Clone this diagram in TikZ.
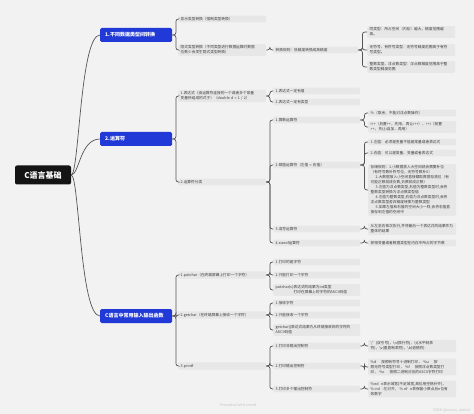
\documentclass[tikz,border=0pt]{standalone}
\usepackage{fontspec}
\setmainfont{Noto Sans CJK SC}
\XeTeXlinebreaklocale "zh"
\definecolor{bg}{HTML}{F2F2F2}
\definecolor{leafbg}{HTML}{E7E7E7}
\definecolor{txt}{HTML}{3C3C3C}
\definecolor{ln}{HTML}{555555}
\definecolor{brblue}{HTML}{2139D6}
\definecolor{rootbk}{HTML}{141414}
\definecolor{faint}{HTML}{C4C4C4}
\tikzset{
  conn/.style={draw=ln, line width=0.7pt, rounded corners=2.5pt},
  rootbox/.style={fill=rootbk, text=white, rounded corners=2pt, minimum width=56pt, minimum height=19pt, font=\fontsize{8}{9}\selectfont\bfseries, inner sep=0pt},
  branch/.style={anchor=west, fill=brblue, text=white, rounded corners=1.5pt, minimum height=14pt, text width=62pt, inner xsep=5pt, align=left, font=\fontsize{5}{6}\selectfont\bfseries},
  leaf/.style={anchor=west, fill=leafbg, text=txt, rounded corners=1.2pt, inner xsep=2.5pt, inner ysep=1.6pt, text width=#1, align=left, font=\fontsize{3.7}{5}\selectfont},
  leaf/.default=83pt,
  wm/.style={text=faint, font=\fontsize{3.6}{4}\selectfont, inner sep=0pt}
}
\begin{document}
\begin{tikzpicture}[x=1pt,y=-1pt]
\useasboundingbox (0,0) rectangle (474,414);
\fill[bg] (0,0) rectangle (474,414);

% root and branches
\node[rootbox] (root) at (43,175) {C语言基础};
\node[branch] (b1) at (100,35) {1.不同数据类型间转换};
\node[branch] (b2) at (100,139) {2.运算符};
\node[branch] (b3) at (100,316) {C语言中常用输入输出函数};

% branch 1
\node[leaf] (a1) at (178,19) {显示类型转换（强制类型转换）};
\node[leaf] (a2) at (178,50) {隐式类型转换（不同类型进行数据运算时数据\\位数少会发生隐式类型转换）};
\node[leaf=80pt] (a2b) at (273,50) {转换规则：低精度转换成高精度};
\node[leaf] (c1) at (367,32) {同类型：所占空间（内存）越大，精度范围越\\高。};
\node[leaf] (c2) at (367,50) {无符号、有符号类型：无符号精度范围高于有符\\号类型。};
\node[leaf] (c3) at (367,67) {整数类型、浮点数类型：浮点数精度范围高于整\\数类型精度范围};

% branch 2
\node[leaf] (a3) at (178,96) {1.表达式（由运算符连接的一个或者多个常量\\变量所组成的式子）（double d = 1 / 2）};
\node[leaf=82pt] (bb1) at (273,91) {1.表达式一定有值};
\node[leaf=82pt] (bb2) at (273,102) {2.表达式一定有类型};
\node[leaf] (a4) at (178,182) {2.运算符分类};
\node[leaf=82pt] (bb3) at (273,120) {1.算数运算符};
\node[leaf] (c4) at (368,113) {\%（取余，不能对浮点数操作）};
\node[leaf] (c5) at (368,127) {i++（后置++，先用，再让i++），++i（前置\\++，先让i自加，再用）};
\node[leaf=82pt] (bb4) at (273,165) {2.赋值运算符（左值 = 右值）};
\node[leaf] (c6) at (368,142) {1.左值：必须是变量不能是常量或者表达式};
\node[leaf] (c7) at (368,153) {2.右值：可以是常量、变量或者表达式};
\node[leaf] (c8) at (368,190) {存储规则：1.小数据放入大空间就会需要补位\\（有符号数补符号位，无符号数补0）\\\hspace*{5pt}2.大数据放入小空间直接截取数据存放位（有\\可能正数就成负数,负数就成正数）\\\hspace*{5pt}3.左值为浮点数类型,右值为整数类型时,会将\\整数类型转换为浮点数类型值\\\hspace*{5pt}4.左值为整数类型,右值为浮点数类型时,会将\\浮点数类型舍弃精度转换为整数类型\\\hspace*{5pt}5.如果左值和右值的空间大小一样,会将右值直\\接存到左值的空间中};
\node[leaf=82pt] (bb5) at (273,229) {3.逗号运算符};
\node[leaf] (c9) at (368,229) {从左至右依次执行,并将最后一个表达式的结果作为\\整体的结果};
\node[leaf=82pt] (bb6) at (273,243) {4.sizeof运算符};
\node[leaf] (c10) at (368,243) {获得变量或者数据类型在内存中所占的字节数};

% branch 3
\node[leaf] (a5) at (178,275) {1.putchar（在终端屏幕上打印一个字符）};
\node[leaf=82pt] (bb7) at (273,262) {1.打印的是字符};
\node[leaf=82pt] (bb8) at (273,275) {2.只能打印一个字符};
\node[leaf=82pt] (bb9) at (273,290) {putchar(c)表达式的结果为int类型\\\hspace*{18pt}打印在屏幕上的字符的ASCII码值};
\node[leaf] (a6) at (178,315) {2.getchar（在终端屏幕上接收一个字符）};
\node[leaf=82pt] (bb10) at (273,303) {1.接收字符};
\node[leaf=82pt] (bb11) at (273,315) {2.只能接收一个字符};
\node[leaf=82pt] (bb12) at (273,330) {getchar()表达式结果为从终端接收到的字符的\\ASCII码值};
\node[leaf] (a7) at (178,366) {3.printf};
\node[leaf=82pt] (bb13) at (273,346) {1.打印非输出控制符};
\node[leaf] (c11) at (368,346) {\textbackslash"(双引号)，\textbackslash n(换行符)，\textbackslash t(水平制表\\符)，\textbackslash v(垂直制表符)，\textbackslash b(退格符)};
\node[leaf=82pt] (bb14) at (273,366) {2.打印输出控制符};
\node[leaf] (c12) at (368,367) {\%d\quad\ 按照有符号十进制打印，\ \%u\quad\ 按\\照无符号类型打印，\ \%f\quad\ 按照浮点数类型打\\印，\ \%c\quad\ 按照二进制对应的ASCII字符打印};
\node[leaf=82pt] (bb15) at (273,389) {3.打印多个输出控制符};
\node[leaf] (c13) at (368,389) {\%nd\ \ n表示域宽(不足域宽,高位用空格补齐)，\\\%-nd\ \ -左对齐，\ \%.nf\ \ n表保留小数点后n位有\\效数字};

% watermarks
\node[wm] (wm1) at (238,405) {Presented with xmind};
\node[wm, anchor=east] (wm2) at (470,410) {CSDN @weixin\_xmind};

% connectors root -> branches
\foreach \b in {b1,b2,b3}
  \draw[conn] (root.east) .. controls +(8,0) and +(-20,0) .. (\b.west);

% branch -> level A
\foreach \p/\c in {b1/a1,b1/a2,b2/a3,b2/a4,b3/a5,b3/a6,b3/a7}
  \draw[conn] (\p.east) -- ++(3.5,0) |- (\c.west);

% level A -> level B
\foreach \p/\c in {a2/a2b,a3/bb1,a3/bb2,a4/bb3,a4/bb4,a4/bb5,a4/bb6,a5/bb7,a5/bb8,a5/bb9,a6/bb10,a6/bb11,a6/bb12,a7/bb13,a7/bb14,a7/bb15}
  \draw[conn] (\p.east) -- ++(3.5,0) |- (\c.west);

% level B -> level C
\foreach \p/\c in {a2b/c1,a2b/c2,a2b/c3,bb3/c4,bb3/c5,bb4/c6,bb4/c7,bb4/c8,bb5/c9,bb6/c10,bb13/c11,bb14/c12,bb15/c13}
  \draw[conn] (\p.east) -- ++(4,0) |- (\c.west);
\end{tikzpicture}
\end{document}
